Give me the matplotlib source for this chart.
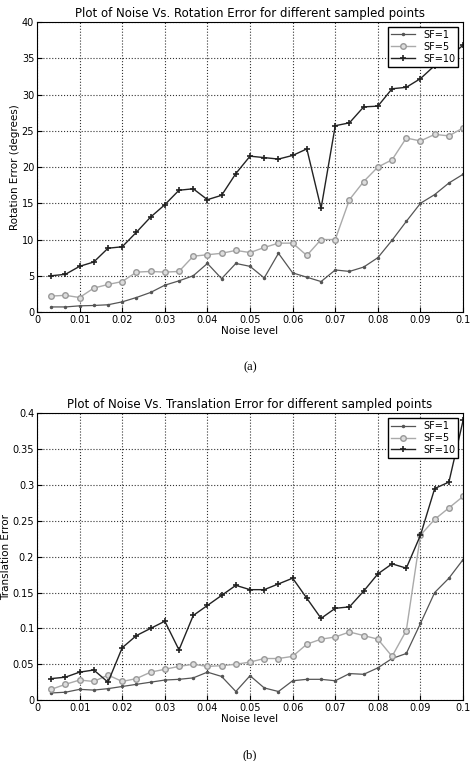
import matplotlib
matplotlib.use("Agg")
import matplotlib.pyplot as plt
import numpy as np

noise = [round(k/300, 5) for k in range(1, 31)]
rot_sf1 = [0.7,0.7,0.85,0.9,1.0,1.4,2.0,2.7,3.7,4.3,5.0,6.7,4.6,6.7,6.3,4.7,8.1,5.4,4.8,4.2,5.8,5.6,6.2,7.5,9.9,12.5,15.0,16.2,17.8,19.0]
rot_sf5 = [2.2,2.3,2.0,3.3,3.8,4.2,5.5,5.6,5.5,5.6,7.7,7.9,8.1,8.5,8.2,8.9,9.5,9.5,7.8,10.0,10.0,15.5,18.0,20.0,21.0,24.0,23.6,24.5,24.3,25.4]
rot_sf10 = [5.0,5.2,6.3,6.9,8.8,9.0,11.0,13.1,14.8,16.8,17.0,15.5,16.1,19.1,21.5,21.3,21.1,21.6,22.5,14.3,25.7,26.1,28.3,28.4,30.8,31.0,32.2,34.0,35.2,36.8]
tr_sf1 = [0.010,0.011,0.015,0.014,0.016,0.019,0.022,0.025,0.028,0.029,0.031,0.039,0.033,0.012,0.034,0.017,0.012,0.027,0.029,0.029,0.027,0.037,0.036,0.045,0.058,0.065,0.107,0.150,0.170,0.196]
tr_sf5 = [0.015,0.022,0.028,0.026,0.035,0.026,0.030,0.039,0.043,0.047,0.050,0.047,0.048,0.050,0.053,0.058,0.058,0.061,0.078,0.085,0.088,0.095,0.090,0.085,0.061,0.097,0.230,0.252,0.268,0.284]
tr_sf10 = [0.030,0.032,0.039,0.042,0.025,0.073,0.090,0.100,0.110,0.070,0.118,0.132,0.146,0.160,0.154,0.154,0.162,0.170,0.142,0.114,0.128,0.130,0.152,0.176,0.190,0.184,0.230,0.295,0.304,0.390]
labels = ["SF=1", "SF=5", "SF=10"]

fig = plt.figure(figsize=(4.74, 7.61), dpi=100)
ax1 = fig.add_axes([0.078, 0.590, 0.899, 0.381])
ax2 = fig.add_axes([0.078, 0.080, 0.899, 0.377])

def draw(ax, s1, s5, s10, ymax, yt, ylabel, title, cap):
    ax.plot(noise, s1, color="#555555", lw=0.9, marker=".", ms=3, label=labels[0])
    ax.plot(noise, s5, color="#aaaaaa", lw=1.0, marker="o", ms=4, mfc="#dddddd", mec="#999999", label=labels[1])
    ax.plot(noise, s10, color="#222222", lw=1.0, marker="+", ms=4, mew=1.2, label=labels[2])
    ax.set_xlim(0, 0.1); ax.set_ylim(0, ymax)
    ax.set_xticks(np.arange(0, 0.1001, 0.01))
    ax.set_xticklabels(["0"] + [f"{v:.2f}" for v in np.arange(0.01, 0.0951, 0.01)] + ["0.1"])
    ax.set_yticks(yt)
    ax.set_yticklabels([("%g" % v) for v in yt])
    ax.tick_params(labelsize=7, direction="in", pad=2)
    ax.grid(True, linestyle=":", color="#333333", lw=0.8)
    ax.set_xlabel("Noise level", fontsize=7.5, labelpad=1)
    ax.set_ylabel(ylabel, fontsize=7.5, labelpad=1)
    ax.set_title(title, fontsize=8.5, pad=4)
    ax.legend(loc="upper right", fontsize=7, fancybox=False, edgecolor="black", framealpha=1, borderpad=0.3, labelspacing=0.2, handlelength=2.5)
    ax.text(0.5, -0.17, cap, transform=ax.transAxes, ha="center", va="top", fontsize=9, family="Liberation Serif")

draw(ax1, rot_sf1, rot_sf5, rot_sf10, 40, np.arange(0, 41, 5), "Rotation Error (degrees)",
     "Plot of Noise Vs. Rotation Error for different sampled points", "(a)")
draw(ax2, tr_sf1, tr_sf5, tr_sf10, 0.4, np.round(np.arange(0, 0.401, 0.05), 2), "Translation Error",
     "Plot of Noise Vs. Translation Error for different sampled points", "(b)")
fig.savefig("out.png", dpi=100)
